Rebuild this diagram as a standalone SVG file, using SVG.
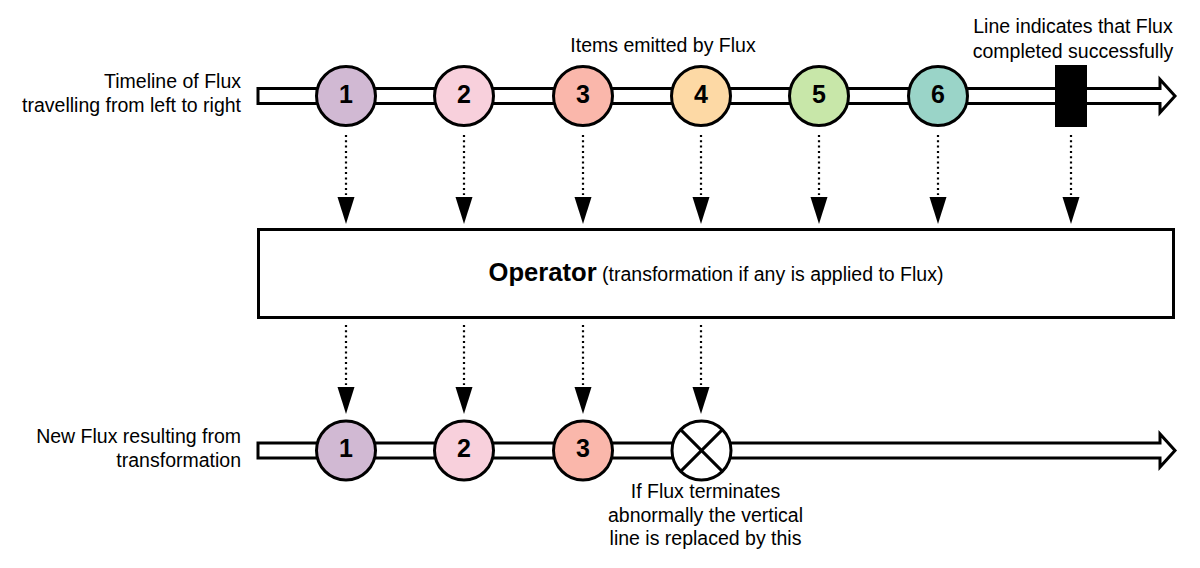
<svg xmlns="http://www.w3.org/2000/svg" width="1200" height="568" viewBox="0 0 1200 568">
<style>
.t{font-family:"Liberation Sans",Arial,sans-serif;font-size:19.5px;fill:#000}
.num{font-family:"Liberation Sans",Arial,sans-serif;font-size:25px;font-weight:bold;fill:#000;text-anchor:middle}
.ln{fill:#fff;stroke:#000;stroke-width:3;stroke-linejoin:miter}
.c{stroke:#000;stroke-width:3}
.dot{stroke:#000;stroke-width:2.2;stroke-dasharray:2 3.3;fill:none}
.ah{fill:#000}
</style>
<rect width="1200" height="568" fill="#fff"/>
<g id="timeline-top">
<polygon class="ln" points="258,88.5 1160,88.5 1160,79.5 1175,96 1160,112.5 1160,103.5 258,103.5"/>
</g>
<g id="timeline-bottom">
<polygon class="ln" points="258,443 1160,443 1160,434 1175,450.5 1160,467 1160,458 258,458"/>
</g>
<g id="connectors">
<line class="dot" x1="346" y1="135" x2="346" y2="195"/>
<line class="dot" x1="464" y1="135" x2="464" y2="195"/>
<line class="dot" x1="583" y1="135" x2="583" y2="195"/>
<line class="dot" x1="701" y1="135" x2="701" y2="195"/>
<line class="dot" x1="819" y1="135" x2="819" y2="195"/>
<line class="dot" x1="938" y1="135" x2="938" y2="195"/>
<line class="dot" x1="1071" y1="135" x2="1071" y2="195"/>
<polygon class="ah" points="337.5,197 354.5,197 346,224"/>
<polygon class="ah" points="455.5,197 472.5,197 464,224"/>
<polygon class="ah" points="574.5,197 591.5,197 583,224"/>
<polygon class="ah" points="692.5,197 709.5,197 701,224"/>
<polygon class="ah" points="810.5,197 827.5,197 819,224"/>
<polygon class="ah" points="929.5,197 946.5,197 938,224"/>
<polygon class="ah" points="1062.5,197 1079.5,197 1071,224"/>
<line class="dot" x1="346" y1="325" x2="346" y2="385"/>
<line class="dot" x1="464" y1="325" x2="464" y2="385"/>
<line class="dot" x1="583" y1="325" x2="583" y2="385"/>
<line class="dot" x1="701" y1="325" x2="701" y2="385"/>
<polygon class="ah" points="337.5,387 354.5,387 346,414"/>
<polygon class="ah" points="455.5,387 472.5,387 464,414"/>
<polygon class="ah" points="574.5,387 591.5,387 583,414"/>
<polygon class="ah" points="692.5,387 709.5,387 701,414"/>
</g>
<g id="item1-top"><circle class="c" cx="346" cy="96" r="29.5" fill="#d1b9d3"/><text class="num" x="346" y="102.5">1</text></g>
<g id="item2-top"><circle class="c" cx="464" cy="96" r="29.5" fill="#f8d0dc"/><text class="num" x="464" y="102.5">2</text></g>
<g id="item3-top"><circle class="c" cx="583" cy="96" r="29.5" fill="#fab7ab"/><text class="num" x="583" y="102.5">3</text></g>
<g id="item4-top"><circle class="c" cx="701" cy="96" r="29.5" fill="#fdd9a5"/><text class="num" x="701" y="102.5">4</text></g>
<g id="item5-top"><circle class="c" cx="819" cy="96" r="29.5" fill="#c8e7a9"/><text class="num" x="819" y="102.5">5</text></g>
<g id="item6-top"><circle class="c" cx="938" cy="96" r="29.5" fill="#9ad4c8"/><text class="num" x="938" y="102.5">6</text></g>
<g id="complete-marker"><rect x="1055" y="65" width="32" height="62" fill="#000"/></g>
<g id="operator">
<rect x="258.5" y="229.5" width="915" height="88" fill="#fff" stroke="#000" stroke-width="3"/>
<text class="t" x="716" y="281" text-anchor="middle"><tspan font-weight="bold" font-size="25.6px">Operator</tspan> (transformation if any is applied to Flux)</text>
</g>
<g id="item1-bottom"><circle class="c" cx="346" cy="450.5" r="29.5" fill="#d1b9d3"/><text class="num" x="346" y="457">1</text></g>
<g id="item2-bottom"><circle class="c" cx="464" cy="450.5" r="29.5" fill="#f8d0dc"/><text class="num" x="464" y="457">2</text></g>
<g id="item3-bottom"><circle class="c" cx="583" cy="450.5" r="29.5" fill="#fab7ab"/><text class="num" x="583" y="457">3</text></g>
<g id="error-marker">
<circle class="c" cx="701.5" cy="450.5" r="29.5" fill="#fff"/>
<line class="c" x1="680.6" y1="429.6" x2="722.4" y2="471.4"/>
<line class="c" x1="722.4" y1="429.6" x2="680.6" y2="471.4"/>
</g>
<g id="labels">
<text class="t" x="663" y="52" text-anchor="middle">Items emitted by Flux</text>
<text class="t" x="1073" y="33" text-anchor="middle">Line indicates that Flux</text>
<text class="t" x="1073" y="57.5" text-anchor="middle">completed successfully</text>
<text class="t" x="241" y="88" text-anchor="end">Timeline of Flux</text>
<text class="t" x="241" y="112" text-anchor="end">travelling from left to right</text>
<text class="t" x="241" y="442.5" text-anchor="end">New Flux resulting from</text>
<text class="t" x="241" y="466.5" text-anchor="end">transformation</text>
<text class="t" x="705.5" y="498" text-anchor="middle">If Flux terminates</text>
<text class="t" x="705.5" y="521.5" text-anchor="middle">abnormally the vertical</text>
<text class="t" x="705.5" y="545" text-anchor="middle">line is replaced by this</text>
</g>
</svg>
